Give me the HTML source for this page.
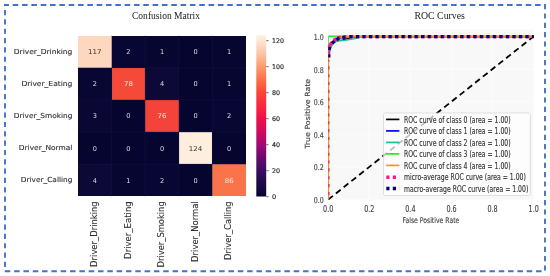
<!DOCTYPE html>
<html lang="en"><head><meta charset="utf-8"><title>Confusion Matrix and ROC Curves</title>
<style>html,body{margin:0;padding:0;background:#fff;}body{width:550px;height:276px;overflow:hidden;}svg{display:block;}.t{font-family:"DejaVu Sans", "Liberation Sans", sans-serif;}.s{font-family:"Liberation Serif", "DejaVu Serif", serif;}</style></head><body>
<svg width="550" height="276" viewBox="0 0 550 276">
<rect width="550" height="276" fill="#ffffff"/>
<g stroke="#4472c4" stroke-width="1.9" fill="none">
<path d="M4,5 H540.7" stroke-dasharray="5.6 3.727" stroke-dashoffset="0.63"/>
<path d="M5,10.0 V267.3" stroke-dasharray="5.2 4.126"/>
<path d="M545,4.07 V270.6" stroke-dasharray="5.2 4.133"/>
<path d="M4.8,271.3 H541.6" stroke-dasharray="5.5 3.82"/>
</g>
<text class="s" x="166" y="19.2" font-size="10" text-anchor="middle" fill="#1a1a1a" textLength="68" lengthAdjust="spacingAndGlyphs">Confusion Matrix</text>
<text class="s" x="439.7" y="19.2" font-size="10" text-anchor="middle" fill="#1a1a1a" textLength="50.4" lengthAdjust="spacingAndGlyphs">ROC Curves</text>
<g shape-rendering="crispEdges">
<rect x="78.00" y="35.50" width="168.00" height="160.90" fill="#06052f"/>
<rect x="78.00" y="35.50" width="33.65" height="32.23" fill="#fdd8be"/>
<rect x="111.60" y="35.50" width="33.65" height="32.23" fill="#080632"/>
<rect x="145.20" y="35.50" width="33.65" height="32.23" fill="#070631"/>
<rect x="212.40" y="35.50" width="33.65" height="32.23" fill="#070631"/>
<rect x="78.00" y="67.68" width="33.65" height="32.23" fill="#080632"/>
<rect x="111.60" y="67.68" width="33.65" height="32.23" fill="#f54a3a"/>
<rect x="145.20" y="67.68" width="33.65" height="32.23" fill="#0d0937"/>
<rect x="212.40" y="67.68" width="33.65" height="32.23" fill="#070631"/>
<rect x="78.00" y="99.86" width="33.65" height="32.23" fill="#0a0734"/>
<rect x="145.20" y="99.86" width="33.65" height="32.23" fill="#f3433b"/>
<rect x="212.40" y="99.86" width="33.65" height="32.23" fill="#080632"/>
<rect x="178.80" y="132.04" width="33.65" height="32.23" fill="#fdeede"/>
<rect x="78.00" y="164.22" width="33.65" height="32.23" fill="#0d0937"/>
<rect x="111.60" y="164.22" width="33.65" height="32.23" fill="#070631"/>
<rect x="145.20" y="164.22" width="33.65" height="32.23" fill="#080632"/>
<rect x="212.40" y="164.22" width="33.65" height="32.23" fill="#f9744a"/>
</g>
<g stroke="#1b1850" stroke-width="0.5" opacity="0.7">
<path d="M111.60,35.50 V196.40"/>
<path d="M78.00,67.68 H246.00"/>
<path d="M145.20,35.50 V196.40"/>
<path d="M78.00,99.86 H246.00"/>
<path d="M178.80,35.50 V196.40"/>
<path d="M78.00,132.04 H246.00"/>
<path d="M212.40,35.50 V196.40"/>
<path d="M78.00,164.22 H246.00"/>
</g>
<g class="t" font-size="6.7" text-anchor="middle">
<text x="94.80" y="54.09" fill="#38322c" textLength="13.6" lengthAdjust="spacingAndGlyphs">117</text>
<text x="128.40" y="54.09" fill="#dcdce8" textLength="4.2" lengthAdjust="spacingAndGlyphs">2</text>
<text x="162.00" y="54.09" fill="#dcdce8" textLength="4.2" lengthAdjust="spacingAndGlyphs">1</text>
<text x="195.60" y="54.09" fill="#dcdce8" textLength="4.2" lengthAdjust="spacingAndGlyphs">0</text>
<text x="229.20" y="54.09" fill="#dcdce8" textLength="4.2" lengthAdjust="spacingAndGlyphs">1</text>
<text x="94.80" y="86.27" fill="#dcdce8" textLength="4.2" lengthAdjust="spacingAndGlyphs">2</text>
<text x="128.40" y="86.27" fill="#f6e6e0" textLength="8.9" lengthAdjust="spacingAndGlyphs">78</text>
<text x="162.00" y="86.27" fill="#dcdce8" textLength="4.2" lengthAdjust="spacingAndGlyphs">4</text>
<text x="195.60" y="86.27" fill="#dcdce8" textLength="4.2" lengthAdjust="spacingAndGlyphs">0</text>
<text x="229.20" y="86.27" fill="#dcdce8" textLength="4.2" lengthAdjust="spacingAndGlyphs">1</text>
<text x="94.80" y="118.45" fill="#dcdce8" textLength="4.2" lengthAdjust="spacingAndGlyphs">3</text>
<text x="128.40" y="118.45" fill="#dcdce8" textLength="4.2" lengthAdjust="spacingAndGlyphs">0</text>
<text x="162.00" y="118.45" fill="#f6e6e0" textLength="8.9" lengthAdjust="spacingAndGlyphs">76</text>
<text x="195.60" y="118.45" fill="#dcdce8" textLength="4.2" lengthAdjust="spacingAndGlyphs">0</text>
<text x="229.20" y="118.45" fill="#dcdce8" textLength="4.2" lengthAdjust="spacingAndGlyphs">2</text>
<text x="94.80" y="150.63" fill="#dcdce8" textLength="4.2" lengthAdjust="spacingAndGlyphs">0</text>
<text x="128.40" y="150.63" fill="#dcdce8" textLength="4.2" lengthAdjust="spacingAndGlyphs">0</text>
<text x="162.00" y="150.63" fill="#dcdce8" textLength="4.2" lengthAdjust="spacingAndGlyphs">0</text>
<text x="195.60" y="150.63" fill="#38322c" textLength="13.6" lengthAdjust="spacingAndGlyphs">124</text>
<text x="229.20" y="150.63" fill="#dcdce8" textLength="4.2" lengthAdjust="spacingAndGlyphs">0</text>
<text x="94.80" y="182.81" fill="#dcdce8" textLength="4.2" lengthAdjust="spacingAndGlyphs">4</text>
<text x="128.40" y="182.81" fill="#dcdce8" textLength="4.2" lengthAdjust="spacingAndGlyphs">1</text>
<text x="162.00" y="182.81" fill="#dcdce8" textLength="4.2" lengthAdjust="spacingAndGlyphs">2</text>
<text x="195.60" y="182.81" fill="#dcdce8" textLength="4.2" lengthAdjust="spacingAndGlyphs">0</text>
<text x="229.20" y="182.81" fill="#f6e6e0" textLength="8.9" lengthAdjust="spacingAndGlyphs">86</text>
</g>
<g class="t" font-size="6.9" text-anchor="end" fill="#303030" stroke="#303030" stroke-width="0.12">
<text x="72.4" y="53.69" textLength="58.6" lengthAdjust="spacingAndGlyphs">Driver_Drinking</text>
<text x="72.4" y="85.87" textLength="51.0" lengthAdjust="spacingAndGlyphs">Driver_Eating</text>
<text x="72.4" y="118.05" textLength="58.6" lengthAdjust="spacingAndGlyphs">Driver_Smoking</text>
<text x="72.4" y="150.23" textLength="53.6" lengthAdjust="spacingAndGlyphs">Driver_Normal</text>
<text x="72.4" y="182.41" textLength="51.6" lengthAdjust="spacingAndGlyphs">Driver_Calling</text>
</g>
<g class="t" font-size="9.5" text-anchor="end" fill="#303030" stroke="#303030" stroke-width="0.12">
<text transform="translate(97.00,201.3) rotate(-90)" x="0" y="0" textLength="65.6" lengthAdjust="spacingAndGlyphs">Driver_Drinking</text>
<text transform="translate(130.60,201.3) rotate(-90)" x="0" y="0" textLength="57.6" lengthAdjust="spacingAndGlyphs">Driver_Eating</text>
<text transform="translate(164.20,201.3) rotate(-90)" x="0" y="0" textLength="66.1" lengthAdjust="spacingAndGlyphs">Driver_Smoking</text>
<text transform="translate(197.80,201.3) rotate(-90)" x="0" y="0" textLength="60.6" lengthAdjust="spacingAndGlyphs">Driver_Normal</text>
<text transform="translate(231.40,201.3) rotate(-90)" x="0" y="0" textLength="58.6" lengthAdjust="spacingAndGlyphs">Driver_Calling</text>
</g>
<defs><linearGradient id="rk" x1="0" y1="1" x2="0" y2="0">
<stop offset="0.0000" stop-color="#06052f"/>
<stop offset="0.0806" stop-color="#1c0a48"/>
<stop offset="0.1613" stop-color="#3a0c62"/>
<stop offset="0.2419" stop-color="#6a0a70"/>
<stop offset="0.3226" stop-color="#a00a72"/>
<stop offset="0.4032" stop-color="#d00a60"/>
<stop offset="0.4839" stop-color="#f01048"/>
<stop offset="0.5645" stop-color="#f82840"/>
<stop offset="0.6452" stop-color="#fa4438"/>
<stop offset="0.7258" stop-color="#fc7048"/>
<stop offset="0.8065" stop-color="#fd9c70"/>
<stop offset="0.8871" stop-color="#fdc4a4"/>
<stop offset="0.9677" stop-color="#fde6d6"/>
<stop offset="1.0000" stop-color="#fdeee0"/>
</linearGradient></defs>
<rect x="256.3" y="35.3" width="9.9" height="161.2" fill="url(#rk)"/>
<g class="t" font-size="6.4" fill="#2c2c2c" stroke="#2c2c2c" stroke-width="0.18">
<path d="M266.2,196.70 H268.6" stroke="#333" stroke-width="0.7" stroke-opacity="1"/>
<text x="271.9" y="199.00" textLength="4.2" lengthAdjust="spacingAndGlyphs">0</text>
<path d="M266.2,170.70 H268.6" stroke="#333" stroke-width="0.7" stroke-opacity="1"/>
<text x="271.9" y="173.00" textLength="8.1" lengthAdjust="spacingAndGlyphs">20</text>
<path d="M266.2,144.70 H268.6" stroke="#333" stroke-width="0.7" stroke-opacity="1"/>
<text x="271.9" y="147.00" textLength="8.1" lengthAdjust="spacingAndGlyphs">40</text>
<path d="M266.2,118.70 H268.6" stroke="#333" stroke-width="0.7" stroke-opacity="1"/>
<text x="271.9" y="121.00" textLength="8.1" lengthAdjust="spacingAndGlyphs">60</text>
<path d="M266.2,92.70 H268.6" stroke="#333" stroke-width="0.7" stroke-opacity="1"/>
<text x="271.9" y="95.00" textLength="8.1" lengthAdjust="spacingAndGlyphs">80</text>
<path d="M266.2,66.70 H268.6" stroke="#333" stroke-width="0.7" stroke-opacity="1"/>
<text x="271.9" y="69.00" textLength="12.0" lengthAdjust="spacingAndGlyphs">100</text>
<path d="M266.2,40.70 H268.6" stroke="#333" stroke-width="0.7" stroke-opacity="1"/>
<text x="271.9" y="43.00" textLength="12.0" lengthAdjust="spacingAndGlyphs">120</text>
</g>
<rect x="328.2" y="29.3" width="205.1" height="170.3" fill="#f8f8f8"/>
<g stroke="#ffffff" stroke-width="0.7" opacity="0.9">
<path d="M369.22,29.30 V199.60"/>
<path d="M410.24,29.30 V199.60"/>
<path d="M451.26,29.30 V199.60"/>
<path d="M492.28,29.30 V199.60"/>
<path d="M328.20,167.00 H533.30"/>
<path d="M328.20,134.40 H533.30"/>
<path d="M328.20,101.80 H533.30"/>
<path d="M328.20,69.20 H533.30"/>
<path d="M328.20,36.60 H533.30"/>
</g>
<defs><clipPath id="pc"><rect x="328.2" y="29.3" width="205.7" height="170.8"/></clipPath></defs>
<g clip-path="url(#pc)" fill="none" stroke-linejoin="round">
<path d="M328.20,199.60 L533.30,36.60" stroke="#000" stroke-width="1.8" stroke-dasharray="6.0 3.88"/>
<path d="M328.20,199.60 C328.20,188.00 328.20,152.93 328.20,130.00 C328.20,107.07 328.02,75.25 328.20,62.00 C328.38,48.75 328.63,53.43 329.30,50.50 C329.97,47.57 331.02,45.98 332.20,44.40 C333.38,42.82 334.85,41.68 336.40,41.00 C337.95,40.32 340.07,40.58 341.50,40.30 C342.93,40.02 343.75,39.67 345.00,39.30 C346.25,38.93 347.50,38.47 349.00,38.10 C350.50,37.73 352.50,37.35 354.00,37.10 C355.50,36.85 353.67,36.68 358.00,36.60 C362.33,36.52 350.62,36.60 380.00,36.60 C409.38,36.60 508.58,36.60 534.30,36.60" stroke="#000000" stroke-width="1.3"/>
<path d="M328.20,199.60 C328.20,188.00 328.20,153.60 328.20,130.00 C328.20,106.40 328.03,71.58 328.20,58.00 C328.37,44.42 328.63,50.90 329.20,48.50 C329.77,46.10 330.63,44.95 331.60,43.60 C332.57,42.25 333.68,41.27 335.00,40.40 C336.32,39.53 337.83,38.90 339.50,38.40 C341.17,37.90 343.08,37.70 345.00,37.40 C346.92,37.10 346.83,36.73 351.00,36.60 C355.17,36.47 339.45,36.60 370.00,36.60 C400.55,36.60 506.92,36.60 534.30,36.60" stroke="#0000ff" stroke-width="1.3"/>
<path d="M328.20,199.60 C328.20,188.00 328.20,152.60 328.20,130.00 C328.20,107.40 328.02,77.08 328.20,64.00 C328.38,50.92 328.63,54.70 329.30,51.50 C329.97,48.30 330.98,46.50 332.20,44.80 C333.42,43.10 334.97,42.00 336.60,41.30 C338.23,40.60 340.10,40.85 342.00,40.60 C343.90,40.35 346.00,40.08 348.00,39.80 C350.00,39.52 352.00,39.30 354.00,38.90 C356.00,38.50 358.00,37.78 360.00,37.40 C362.00,37.02 361.83,36.73 366.00,36.60 C370.17,36.47 356.95,36.60 385.00,36.60 C413.05,36.60 509.42,36.60 534.30,36.60" stroke="#12c29b" stroke-width="1.4"/>
<path d="M328.20,199.60 V36.30 H534.30" stroke="#22ee22" stroke-width="1.7"/>
<path d="M328.20,199.60 C328.20,188.00 328.20,153.93 328.20,130.00 C328.20,106.07 328.07,69.67 328.20,56.00 C328.33,42.33 328.50,50.10 329.00,48.00 C329.50,45.90 330.27,44.73 331.20,43.40 C332.13,42.07 333.30,40.90 334.60,40.00 C335.90,39.10 337.35,38.48 339.00,38.00 C340.65,37.52 342.67,37.33 344.50,37.10 C346.33,36.87 345.75,36.68 350.00,36.60 C354.25,36.52 339.28,36.60 370.00,36.60 C400.72,36.60 506.92,36.60 534.30,36.60" stroke="#ff9410" stroke-width="2.0"/>
<path d="M328.20,199.60 V60" stroke="#ff1493" stroke-width="2.6" stroke-dasharray="3.1 4.75" stroke-dashoffset="3.25"/>
<path d="M328.64,54.10 L328.76,50.90" stroke="#ff1493" stroke-width="3.3"/>
<path d="M328.82,47.58 L329.38,44.42" stroke="#ff1493" stroke-width="3.3"/>
<path d="M330.11,44.66 L332.09,42.14" stroke="#ff1493" stroke-width="3.3"/>
<path d="M333.59,40.42 L336.21,38.58" stroke="#ff1493" stroke-width="3.3"/>
<path d="M337.48,38.09 L340.52,37.11" stroke="#ff1493" stroke-width="3.3"/>
<path d="M343.31,37.07 L346.49,36.73" stroke="#ff1493" stroke-width="3.3"/>
<path d="M350.09,36.60 H534.30" stroke="#ff1493" stroke-width="3.3" stroke-dasharray="3.2 3.32"/>
<path d="M328.80,57.40 L328.80,54.20" stroke="#000080" stroke-width="3.3"/>
<path d="M329.17,50.17 L329.83,47.03" stroke="#000080" stroke-width="3.3"/>
<path d="M332.07,43.33 L334.33,41.07" stroke="#000080" stroke-width="3.3"/>
<path d="M336.41,39.60 L339.19,38.00" stroke="#000080" stroke-width="3.3"/>
<path d="M342.32,37.58 L345.48,37.02" stroke="#000080" stroke-width="3.3"/>
<path d="M349.29,36.60 H534.30" stroke="#000080" stroke-width="3.3" stroke-dasharray="3.2 3.32"/>
</g>
<g class="t" font-size="8.2" fill="#444444" text-anchor="middle" stroke="#444444" stroke-width="0.15">
<text x="328.20" y="212.4" textLength="10.2" lengthAdjust="spacingAndGlyphs">0.0</text>
<text x="369.30" y="212.4" textLength="10.2" lengthAdjust="spacingAndGlyphs">0.2</text>
<text x="410.40" y="212.4" textLength="10.2" lengthAdjust="spacingAndGlyphs">0.4</text>
<text x="451.50" y="212.4" textLength="10.2" lengthAdjust="spacingAndGlyphs">0.6</text>
<text x="492.60" y="212.4" textLength="10.2" lengthAdjust="spacingAndGlyphs">0.8</text>
<text x="533.70" y="212.4" textLength="10.2" lengthAdjust="spacingAndGlyphs">1.0</text>
</g>
<g class="t" font-size="7.9" fill="#444444" text-anchor="end" stroke="#444444" stroke-width="0.15">
<text x="323.8" y="203.00" textLength="10" lengthAdjust="spacingAndGlyphs">0.0</text>
<text x="323.8" y="170.40" textLength="10" lengthAdjust="spacingAndGlyphs">0.2</text>
<text x="323.8" y="137.80" textLength="10" lengthAdjust="spacingAndGlyphs">0.4</text>
<text x="323.8" y="105.20" textLength="10" lengthAdjust="spacingAndGlyphs">0.6</text>
<text x="323.8" y="72.60" textLength="10" lengthAdjust="spacingAndGlyphs">0.8</text>
<text x="323.8" y="40.00" textLength="10" lengthAdjust="spacingAndGlyphs">1.0</text>
</g>
<text class="t" x="430.9" y="222.7" font-size="7.9" fill="#444444" text-anchor="middle" textLength="56.8" lengthAdjust="spacingAndGlyphs" stroke="#444444" stroke-width="0.15">False Positive Rate</text>
<text class="t" transform="translate(310,113.8) rotate(-90)" font-size="7" fill="#444444" text-anchor="middle" textLength="70" lengthAdjust="spacingAndGlyphs" stroke="#444444" stroke-width="0.15">True Positive Rate</text>
<rect x="383.5" y="113" width="146.8" height="82.5" rx="1.6" ry="1.6" fill="#ffffff" fill-opacity="0.75" stroke="#d2d2d2" stroke-width="0.7"/>
<path d="M386.1,119.40 H399.4" stroke="#000000" stroke-width="1.7"/>
<path d="M386.1,130.90 H399.4" stroke="#0000ff" stroke-width="1.7"/>
<path d="M386.1,142.40 H399.4" stroke="#12c29b" stroke-width="1.7"/>
<path d="M386.1,153.90 H399.4" stroke="#22ee22" stroke-width="1.7"/>
<path d="M386.1,165.40 H399.4" stroke="#ff9410" stroke-width="1.7"/>
<path d="M386.3,177.30 H399.4" stroke="#ff1493" stroke-width="3.5" stroke-dasharray="3.2 3.3"/>
<path d="M386.3,188.60 H399.4" stroke="#000080" stroke-width="3.5" stroke-dasharray="3.2 3.3"/>
<g class="t" font-size="8.3" fill="#333333" stroke="#333333" stroke-width="0.15">
<text x="404" y="122.60" textLength="106.6" lengthAdjust="spacingAndGlyphs">ROC curve of class 0 (area = 1.00)</text>
<text x="404" y="134.10" textLength="106.6" lengthAdjust="spacingAndGlyphs">ROC curve of class 1 (area = 1.00)</text>
<text x="404" y="145.60" textLength="106.6" lengthAdjust="spacingAndGlyphs">ROC curve of class 2 (area = 1.00)</text>
<text x="404" y="157.10" textLength="106.6" lengthAdjust="spacingAndGlyphs">ROC curve of class 3 (area = 1.00)</text>
<text x="404" y="168.60" textLength="106.6" lengthAdjust="spacingAndGlyphs">ROC curve of class 4 (area = 1.00)</text>
<text x="404" y="180.30" textLength="121.8" lengthAdjust="spacingAndGlyphs">micro-average ROC curve (area = 1.00)</text>
<text x="404" y="191.60" textLength="124.3" lengthAdjust="spacingAndGlyphs">macro-average ROC curve (area = 1.00)</text>
</g>
</svg></body></html>
